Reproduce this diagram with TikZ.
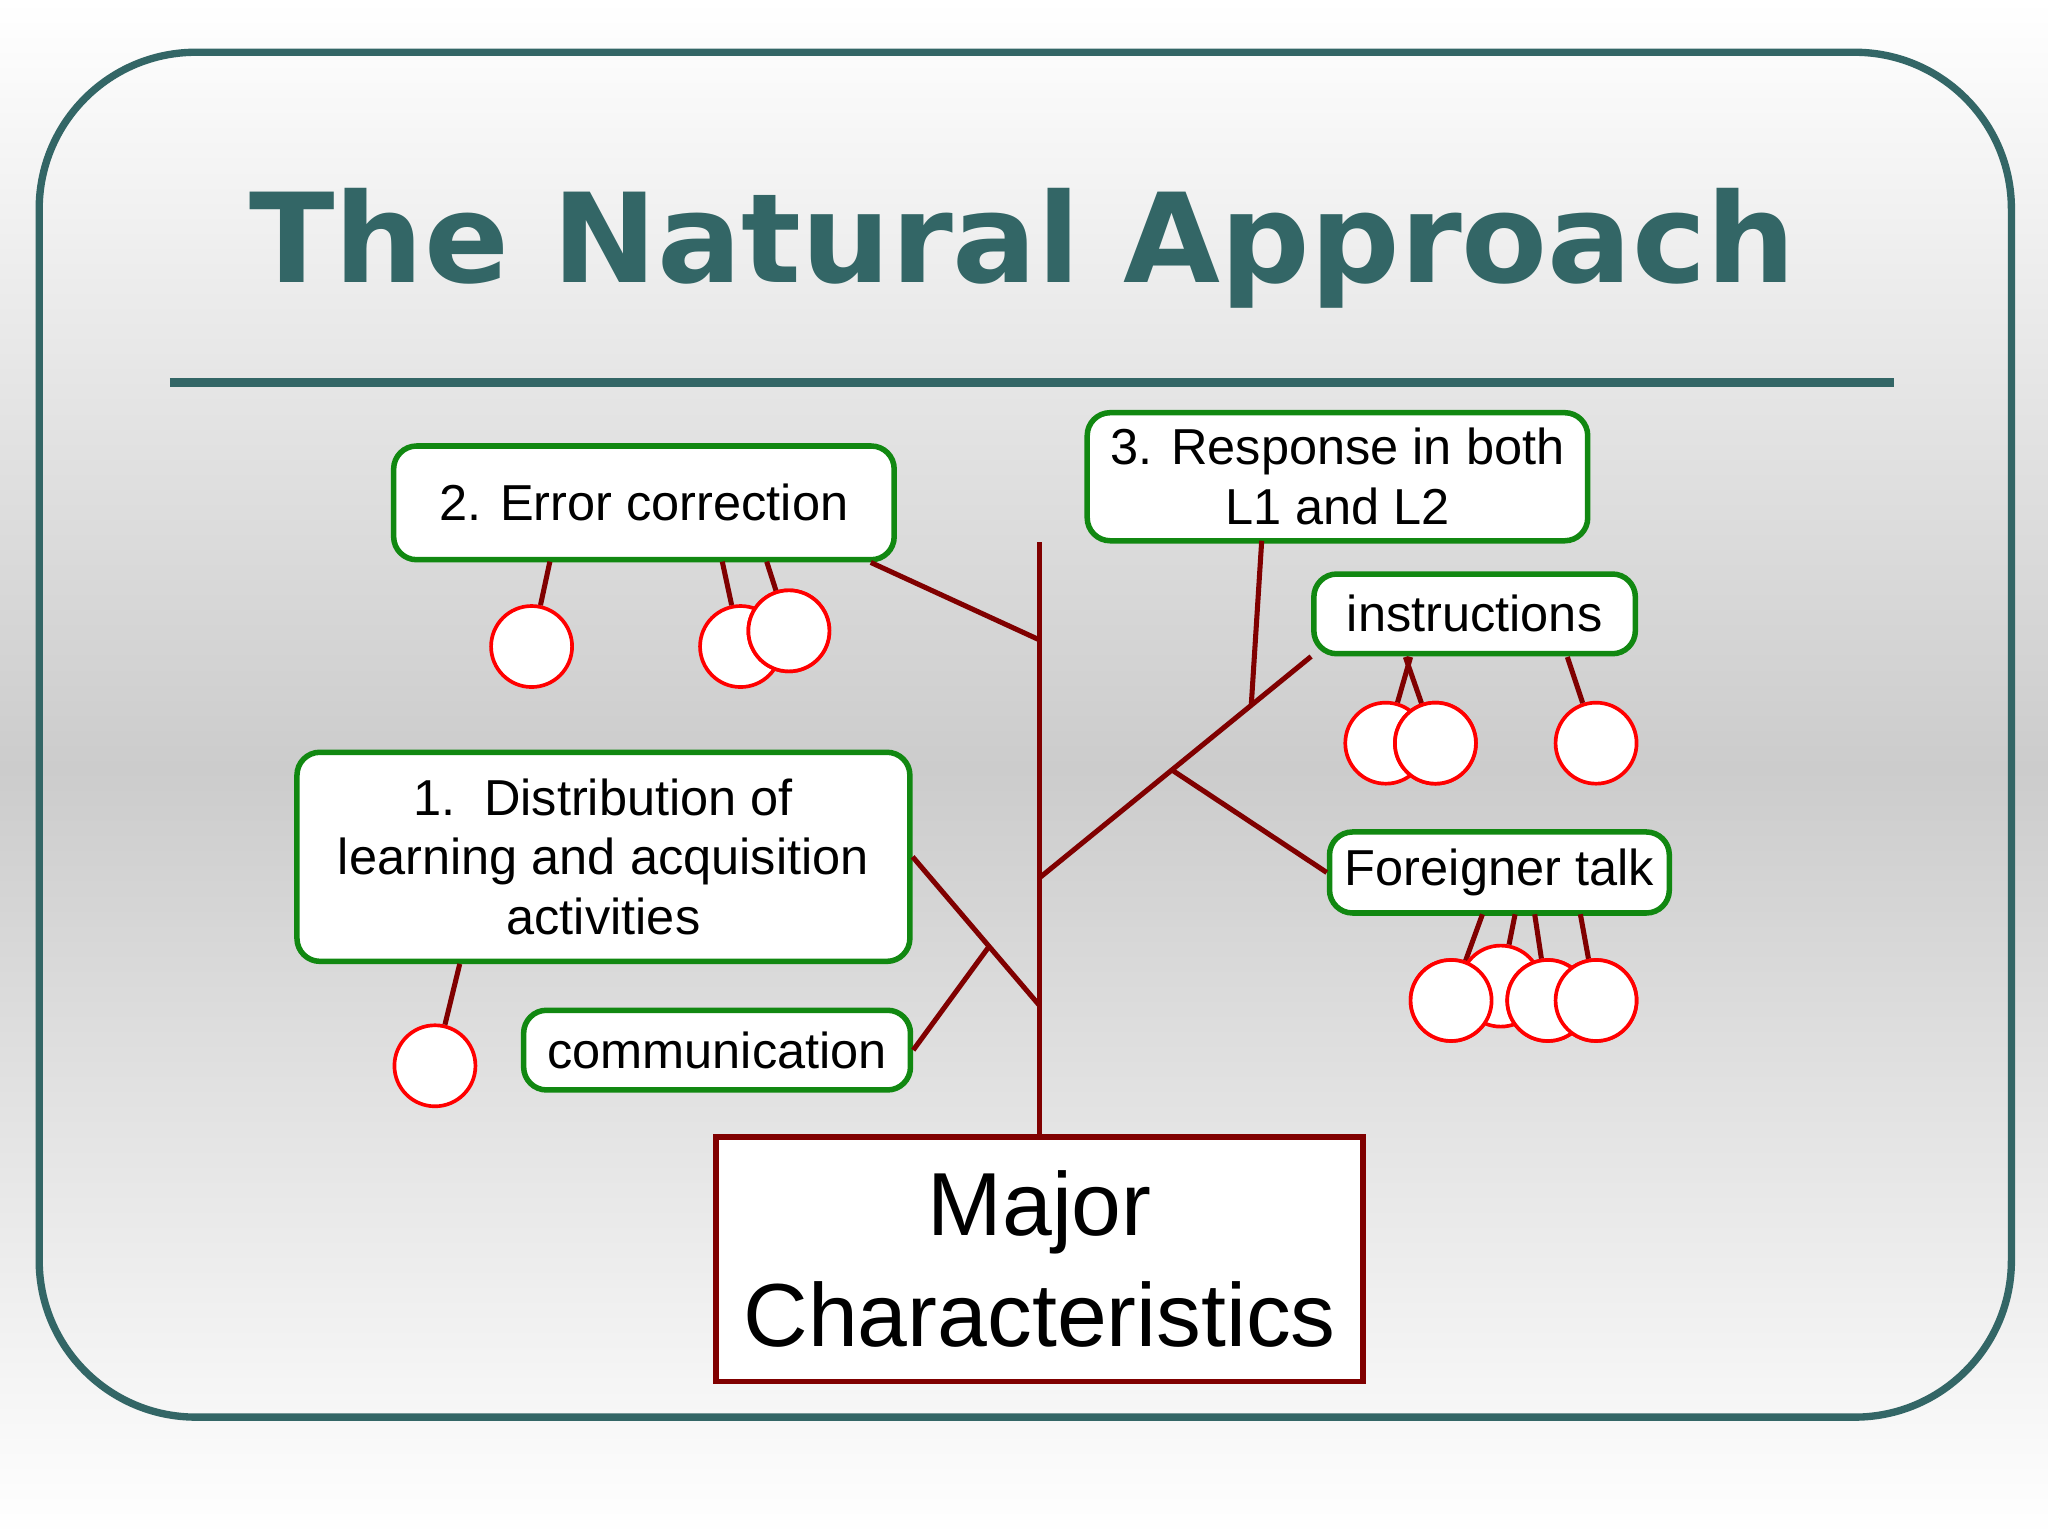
\documentclass[tikz,border=0pt]{standalone}
\usepackage{fontspec}
\setmainfont{Liberation Sans}
\newfontfamily\titlefont{DejaVu Sans}
\definecolor{frameteal}{HTML}{336666}
\definecolor{branchred}{HTML}{800000}
\definecolor{boxgreen}{HTML}{118811}
\tikzset{
  leaf/.style={draw=boxgreen, very thick, fill=white, rounded corners=5pt, align=center, font=\fontsize{11}{13}\selectfont},
  cherry/.style={circle, draw=red, thick, fill=white, minimum size=0.62cm, inner sep=0pt},
  stem/.style={draw=branchred, line width=1.1pt},
}
\begin{document}
\begin{tikzpicture}[x=0.01cm, y=-0.01cm]
    % Hintergrund
    \shade[top color=white, bottom color=white, middle color=gray!40] (0,0) rectangle (1568,1176);
    \useasboundingbox (0,0) rectangle (1568,1176);
    \draw[frameteal, line width=1.6pt, rounded corners=1.2cm] (30,40) rectangle (1540,1085);

    % Titel
    \node[text=frameteal, font=\titlefont\bfseries\fontsize{27}{30}\selectfont, transform shape, xscale=1.01] (title) at (783,190) {The Natural Approach};
    \draw[frameteal, line width=2pt] (130,293) -- (1450,293);

    % Stamm und Wurzelkasten
    \node[draw=branchred, very thick, fill=white, minimum width=4.95cm, minimum height=1.87cm, align=center, font=\fontsize{19.5}{24}\selectfont] (major) at (796,964) {Major\\Characteristics};
    \coordinate (top) at (796,415);
    \draw[stem] (major.north) -- (top);

    % Kaesten
    \node[leaf, minimum width=3.83cm, minimum height=0.87cm] (err) at (493,385) {2. Error correction};
    \node[leaf, minimum width=4.69cm, minimum height=1.6cm] (dist) at (462,656) {1.\ \ Distribution of\\learning and acquisition\\activities};
    \node[leaf, minimum width=2.96cm, minimum height=0.61cm] (comm) at (549,804) {communication};
    \node[leaf, minimum width=3.83cm, minimum height=0.98cm] (resp) at (1024,365) {3. Response in both\\L1 and L2};
    \node[leaf, minimum width=2.46cm, minimum height=0.61cm] (instr) at (1129,470) {instructions};
    \node[leaf, minimum width=2.6cm, minimum height=0.62cm] (foreign) at (1148,668) {Foreigner talk};

    % Aeste
    \coordinate (b1) at (796,490);
    \coordinate (b2) at (796,770);
    \coordinate (b3) at (757,725);
    \coordinate (b4) at (796,672);
    \coordinate (b5) at (958,540);
    \coordinate (b6) at (898,590);
    \draw[stem] (err.south east) ++(-20,0) -- (b1);
    \draw[stem] (b2) -- (dist.east);
    \draw[stem] (b3) -- (comm.east);
    \draw[stem] (b4) -- (instr.south west);
    \draw[stem] (b5) -- (966,414);
    \draw[stem] (b6) -- (foreign.west);

    % Kirschen
    \foreach \sx/\sy/\cx/\cy [count=\i] in {421/430/407/495, 553/430/567/495, 587/430/604/483,
        352/738/333/816, 1080/503/1061/569, 1076/503/1099/569, 1200/503/1222/569,
        1135/700/1111/766, 1160/700/1149/755, 1175/700/1185/766, 1210/700/1222/766}
    {
        \node[cherry] (c\i) at (\cx,\cy) {};
        \draw[stem] (\sx,\sy) -- (c\i);
    }
    % Vordergrundkirschen neu zeichnen
    \node[cherry] at (604,483) {};
    \node[cherry] at (1099,569) {};
    \node[cherry] at (1111,766) {};
    \node[cherry] at (1185,766) {};
    \node[cherry] at (1222,766) {};
\end{tikzpicture}
\end{document}
